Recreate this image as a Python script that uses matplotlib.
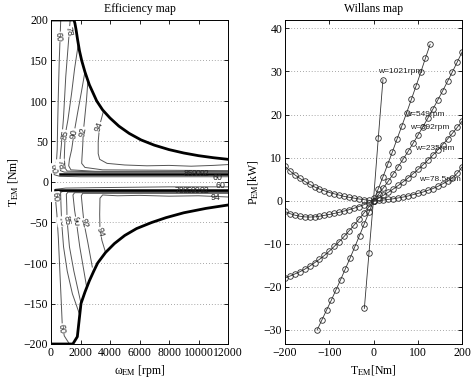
import matplotlib
matplotlib.use('Agg')
import matplotlib.pyplot as plt

plt.rcParams['font.family'] = ['Liberation Serif', 'DejaVu Serif']
plt.rcParams['mathtext.fontset'] = 'stix'

# ---------------- Efficiency map data ----------------
maxT_pos_rpm = [0, 1560, 1620, 1700, 1800, 1930, 2080, 2300, 2600, 3100, 3500, 4000, 4600, 5300, 6100,
                7000, 8000, 9000, 10000, 11000, 12000]
maxT_pos_T = [200, 200, 196, 188, 176, 162, 150, 136, 120, 100, 89, 79, 69, 60, 52,
              45.5, 40, 35.8, 32.5, 30, 28]
maxT_neg_rpm = [0, 1480, 1785, 1900, 2034, 2300, 2600, 2900, 3165, 3700, 4300, 5000, 5800, 6825, 7800,
                9000, 10500, 12000]
maxT_neg_T = [-200, -200, -191, -172, -150, -136, -122, -110, -100, -87, -76, -66, -57.5, -50, -44,
              -38, -32.6, -28.4]

band_pos_rpm = [600, 12000]
band_pos_T = [10, 10]
band_neg_rpm = [270, 12000]
band_neg_T = [-10, -10]

# contour lines (rpm, torque)
c60_pos = [(660, 200), (610, 175), (560, 150), (500, 110), (450, 70), (420, 40), (380, 28), (250, 20),
           (160, 14), (220, 9), (600, 7), (2000, 6.5), (5000, 6.5), (8000, 6.5), (12000, 6.5)]
c78_pos = [(1300, 200), (1240, 186), (1150, 165), (1000, 130), (850, 80), (700, 45), (620, 30), (590, 20),
           (640, 14), (900, 12.2), (3000, 12), (6000, 12), (9000, 12), (12000, 12)]
c85_pos = [(1850, 170), (1600, 140), (1400, 110), (1150, 77), (960, 58), (920, 40), (900, 28), (920, 18),
           (1100, 13.5), (3000, 12.6), (12000, 12.6)]
c90_pos = [(2300, 136), (2050, 110), (1800, 85), (1560, 60), (1400, 40), (1250, 28), (1200, 20), (1350, 15),
           (3000, 13.2), (12000, 13.2)]
c92_pos = [(2500, 124), (2400, 100), (2280, 78), (2190, 62), (2150, 45), (2100, 30), (2080, 23), (2300, 18),
           (3500, 15), (12000, 14)]
c94_pos = [(3550, 87), (3300, 70), (3200, 50), (3200, 35), (3300, 28), (3800, 23), (5000, 21), (6500, 20),
           (8000, 20.5), (9500, 19.5), (11000, 20.5), (12000, 21.5)]

c60_neg = [(12000, -6), (8000, -6), (3000, -7), (1000, -7.5), (300, -9), (250, -14), (300, -20), (400, -40),
           (500, -70), (600, -110), (700, -150), (760, -175), (900, -190), (1250, -200)]
c78_neg = [(12000, -11.5), (3000, -11.5), (800, -11.5), (650, -13), (680, -30), (720, -49), (850, -80),
           (1100, -110), (1450, -138), (1950, -164)]
c85_neg = [(12000, -12.5), (3000, -12.5), (1150, -12.5), (1040, -15), (1070, -30), (1090, -47), (1250, -80),
           (1550, -110), (2034, -150)]
c90_neg = [(12000, -13.2), (3000, -13.2), (1600, -13.2), (1490, -16), (1600, -35), (1720, -49), (1950, -80),
           (2420, -130)]
c92_neg = [(12000, -14), (3500, -14), (2150, -14), (2055, -17), (2150, -35), (2240, -51), (2500, -75),
           (2800, -105)]
c94_neg = [(12000, -18.5), (10000, -17), (8000, -17.5), (6000, -16.5), (4500, -17), (3500, -16), (3320, -20),
           (3300, -40), (3320, -58), (3450, -72), (3700, -87)]

contours = [c60_pos, c78_pos, c85_pos, c90_pos, c92_pos, c94_pos,
            c60_neg, c78_neg, c85_neg, c90_neg, c92_neg, c94_neg]

# contour labels: text, rpm, torque, rotation
lab_text = ['60', '78', '60', '78', '85', '90', '92', '94', '85', '90', '92', '60',
            '60', '78', '85', '90', '92', '94', '60', '78', '85', '90', '92', '60', '94']
lab_rpm = [520, 1240, 150, 620, 960, 1560, 2190, 3250, 9300, 9860, 10420, 11300,
           290, 720, 1090, 1720, 2240, 3320, 740, 8700, 9260, 9820, 10380, 11500, 11150]
lab_T = [179, 186, 17, 22, 58, 60, 62, 68, 10.8, 10.8, 10.8, 6.0,
         -18, -49, -47, -49, -51, -62, -181, -10.3, -10.3, -10.3, -10.3, -4.8, -19]
lab_rot = [-85, -80, -85, -85, 80, 80, 80, 70, 0, 0, 0, 0,
           -85, -80, -80, -80, -75, -75, -85, 0, 0, 0, 0, 0, 0]

# ---------------- Willans map data ----------------
T_wide = [-200.0, -188.9, -177.8, -166.7, -155.6, -144.4, -133.3, -122.2, -111.1, -100.0, -88.9, -77.8,
          -66.7, -55.6, -44.4, -33.3, -22.2, -11.1, 0.0, 11.1, 22.2, 33.3, 44.4, 55.6, 66.7, 77.8, 88.9,
          100.0, 111.1, 122.2, 133.3, 144.4, 155.6, 166.7, 177.8, 188.9, 200.0]
P_785 = [8.0, 6.9, 6.0, 5.2, 4.5, 3.8, 3.2, 2.7, 2.3, 1.9, 1.6, 1.3, 1.0, 0.8, 0.6, 0.4, 0.25, 0.1,
         0.0, 0.05, 0.15, 0.3, 0.45, 0.65, 0.85, 1.1, 1.4, 1.7, 2.0, 2.4, 2.8, 3.3, 3.9, 4.5, 5.3, 6.4, 7.9]
P_235 = [-2.5, -3.0, -3.35, -3.6, -3.75, -3.8, -3.75, -3.6, -3.4, -3.2, -2.95, -2.7, -2.4, -2.1, -1.75,
         -1.35, -0.95, -0.5, 0.0, 0.6, 1.27, 1.97, 2.72, 3.54, 4.39, 5.29, 6.25, 7.25, 8.3, 9.41, 10.55,
         11.75, 13.0, 14.3, 15.65, 17.06, 18.5]
P_392 = [-17.9, -17.5, -17.0, -16.5, -15.9, -15.2, -14.4, -13.6, -12.7, -11.7, -10.6, -9.5, -8.3, -7.0,
         -5.7, -4.3, -2.9, -1.5, 0.0, 1.48, 3.01, 4.59, 6.23, 7.93, 9.67, 11.46, 13.31, 15.2, 17.14, 19.15,
         21.19, 23.3, 25.46, 27.68, 29.93, 32.24, 34.6]
T_549 = [-127.5, -116.9, -106.3, -95.6, -85.0, -74.4, -63.8, -53.1, -42.5, -31.9, -21.3, -10.6, 0.0,
         10.6, 21.3, 31.9, 42.5, 53.1, 63.8, 74.4, 85.0, 95.6, 106.3, 116.9, 127.5]
P_549 = [-30.0, -27.7, -25.4, -23.1, -20.7, -18.3, -15.8, -13.3, -10.7, -8.1, -5.4, -2.7, 0.0, 2.8, 5.6,
         8.5, 11.4, 14.4, 17.4, 20.4, 23.5, 26.6, 29.8, 33.1, 36.3]
T_1021 = [-21.0, -10.5, 0.0, 10.5, 21.0]
P_1021 = [-25.0, -12.1, 0.6, 14.6, 28.1]

w_labels = ['w=1021rpm', 'w=549rpm', 'w=392rpm', 'w=235rpm', 'w=78.5rpm']
w_lab_T = [10, 70, 81, 93, 102]
w_lab_P = [30, 20, 17, 12, 5]

# ---------------- figure ----------------
fig = plt.figure(figsize=(4.74, 3.82), dpi=100)
ax1 = fig.add_axes([51 / 474, 1 - 344 / 382, 177 / 474, 324 / 382])
ax2 = fig.add_axes([285 / 474, 1 - 344 / 382, 177.3 / 474, 324 / 382])

for ax in (ax1, ax2):
    ax.tick_params(direction='in', top=True, right=True, length=3, width=0.6, labelsize=8.5, pad=2)
    for s in ax.spines.values():
        s.set_linewidth(0.7)
    ax.grid(axis='y', linestyle=(0, (1, 2.5)), color='#8a8a8a', linewidth=0.6)
    ax.set_axisbelow(True)

# --- efficiency map
for c in contours:
    ax1.plot([p[0] for p in c], [p[1] for p in c], color='#555555', lw=0.7, zorder=2)
ax1.plot(maxT_pos_rpm, maxT_pos_T, color='black', lw=2.0, zorder=4, solid_joinstyle='round')
ax1.plot(maxT_neg_rpm, maxT_neg_T, color='black', lw=2.0, zorder=4, solid_joinstyle='round')
ax1.plot(band_pos_rpm, band_pos_T, color='black', lw=1.8, zorder=4)
ax1.plot(band_neg_rpm, band_neg_T, color='black', lw=1.8, zorder=4)
for s, x, y, r in zip(lab_text, lab_rpm, lab_T, lab_rot):
    kw = {}
    if r != 0:
        kw['bbox'] = dict(fc='white', ec='none', pad=0.2)
    ax1.text(x, y, s, rotation=r, ha='center', va='center', fontsize=6.3,
             family=['Liberation Sans', 'DejaVu Sans'], color='#222222', zorder=5, **kw)

ax1.set_xlim(0, 12000)
ax1.set_ylim(-200, 200)
ax1.set_xticks([0, 2000, 4000, 6000, 8000, 10000, 12000])
ax1.set_yticks([-200, -150, -100, -50, 0, 50, 100, 150, 200])
ax1.set_title('Efficiency map', fontsize=8.5, pad=6)
ax1.set_xlabel('ω$_{\\rm EM}$ [rpm]', fontsize=8.5, labelpad=3)
ax1.set_ylabel('T$_{\\rm EM}$ [Nm]', fontsize=8.5, labelpad=3)

# --- Willans map
series_T = [T_1021, T_549, T_wide, T_wide, T_wide]
series_P = [P_1021, P_549, P_392, P_235, P_785]
for tt, pp in zip(series_T, series_P):
    ax2.plot(tt, pp, color='#333333', lw=0.6, marker='o', ms=4, mfc='none', mec='#2a2a2a', mew=0.6)
for s, x, y in zip(w_labels, w_lab_T, w_lab_P):
    ax2.text(x, y, s, ha='left', va='center', fontsize=6, family=['Liberation Sans', 'DejaVu Sans'],
             color='#222222')

ax2.set_xlim(-200, 200)
ax2.set_ylim(-33.25, 41.93)
ax2.set_xticks([-200, -100, 0, 100, 200])
ax2.set_yticks([-30, -20, -10, 0, 10, 20, 30, 40])
ax2.set_title('Willans map', fontsize=8.5, pad=6)
ax2.set_xlabel('T$_{\\rm EM}$[Nm]', fontsize=8.5, labelpad=3)
ax2.set_ylabel('P$_{\\rm EM}$[kW]', fontsize=8.5, labelpad=3)

fig.savefig('out.png', dpi=100)
